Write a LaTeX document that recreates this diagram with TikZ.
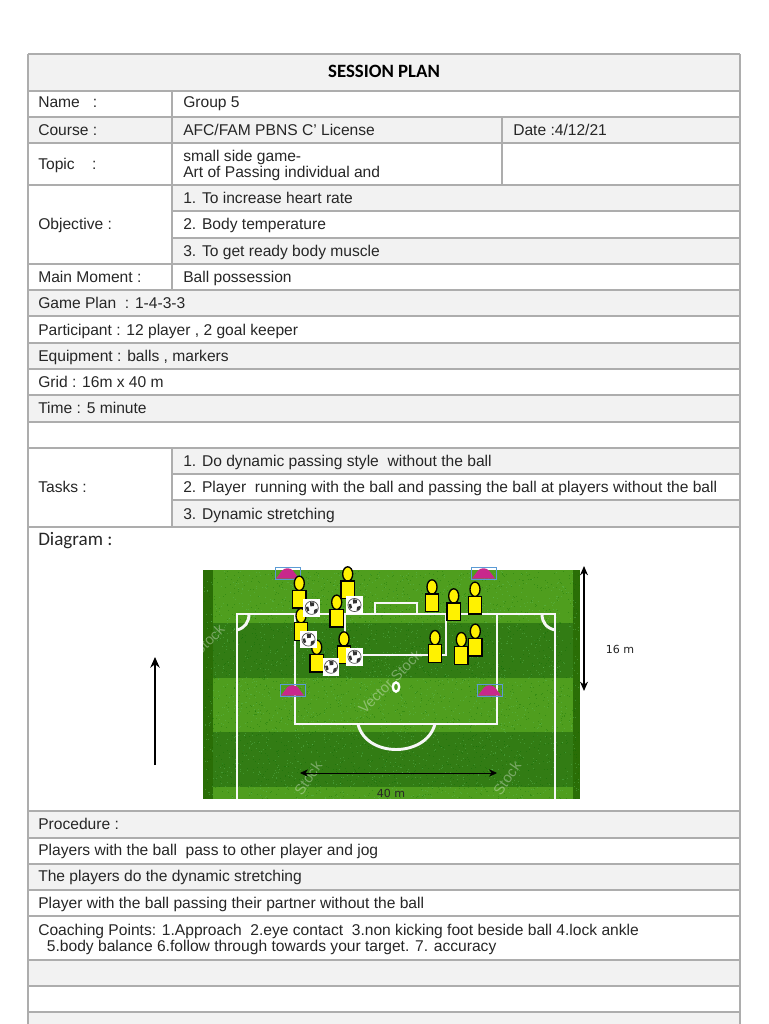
\documentclass[tikz,border=0pt]{standalone}
\usepackage{fontspec}
\setmainfont{Liberation Sans}
\newfontfamily\titlefont{Carlito}
\newfontfamily\dimfont{DejaVu Sans}
\usetikzlibrary{arrows.meta}
\definecolor{gridline}{HTML}{ADADAD}
\definecolor{rowshade}{HTML}{F2F2F2}
\definecolor{grasslight}{HTML}{4F9E1E}
\definecolor{grassdark}{HTML}{327C14}
\definecolor{grassedge}{HTML}{2A6E06}
\definecolor{conepink}{HTML}{C8288C}
\definecolor{coneblue}{HTML}{5B9BD5}
\begin{document}
\begin{tikzpicture}[
  x=0.75pt, y=-0.75pt,
  cell/.style={anchor=base west, inner sep=0pt, font=\fontsize{11.7pt}{12pt}\selectfont, text=black!85},
  pitchline/.style={draw=white!97!black, line width=2.2pt},
  marker/.style={draw=coneblue, line width=0.7pt},
  dimarrow/.style={{Stealth[length=7pt,width=6pt]}-{Stealth[length=7pt,width=6pt]}, line width=0.9pt},
  wmark/.style={text=white, opacity=0.35, font=\fontsize{11pt}{12pt}\selectfont, inner sep=0pt}
]
\useasboundingbox (0,0) rectangle (768,1024);

% Shaded rows
\foreach \ya/\yb in {54/91, 117/143, 290/316, 343/369, 395/422, 811/838, 864/890, 960/986, 1012/1024}
  \fill[rowshade] (28,\ya) rectangle (740,\yb);
\foreach \ya/\yb in {185/211, 238/264, 448/474, 500/527}
  \fill[rowshade] (172,\ya) rectangle (740,\yb);

% Rows and columns
\foreach \y in {54, 91, 117, 143, 264, 290, 316, 343, 369, 395, 422, 448, 527, 811, 838, 864, 890, 916, 960, 986, 1012}
  \draw[gridline, line width=0.8pt] (28,\y) -- (740,\y);
\foreach \y in {185, 211, 238, 474, 500}
  \draw[gridline, line width=0.8pt] (172,\y) -- (740,\y);
\draw[gridline, line width=0.8pt] (28,185) -- (172,185);
\draw[gridline, line width=0.8pt] (28,54) -- (28,1024);
\draw[gridline, line width=0.8pt] (740,54) -- (740,1024);
\draw[gridline, line width=0.8pt] (172,91) -- (172,290);
\draw[gridline, line width=0.8pt] (172,448) -- (172,527);
\draw[gridline, line width=0.8pt] (502,117) -- (502,185);

% Table text
\node[inner sep=0pt, font=\titlefont\bfseries\fontsize{14.1pt}{16pt}\selectfont] (title) at (384,71) {SESSION PLAN};
\node[cell] (name) at (38,108) {Name\ \ \ :};
\node[cell] (group) at (183,108) {Group 5};
\node[cell] (course) at (38,135) {Course :};
\node[cell] (license) at (183,135) {AFC/FAM PBNS C’ License};
\node[cell] (date) at (513,135) {Date :4/12/21};
\node[cell] (topic) at (38,169) {Topic\ \ \ \ :};
\node[cell] (game) at (183,161) {small side game-};
\node[cell] (art) at (183,177) {Art of Passing individual and};
\node[cell] (objective) at (38,229) {Objective :};
\node[cell] (heart) at (183,203) {1. To increase heart rate};
\node[cell] (temp) at (183,229) {2. Body temperature};
\node[cell] (muscle) at (183,256) {3. To get ready body muscle};
\node[cell] (moment) at (38,282) {Main Moment :};
\node[cell] (possession) at (183,282) {Ball possession};
\node[cell] (plan) at (38,308) {Game Plan\ \ : 1-4-3-3};
\node[cell] (participant) at (38,335) {Participant : 12 player , 2 goal keeper};
\node[cell] (equipment) at (38,361) {Equipment : balls , markers};
\node[cell] (gridsize) at (38,387) {Grid : 16m x 40 m};
\node[cell] (time) at (38,413) {Time : 5 minute};
\node[cell] (tasks) at (38,492) {Tasks :};
\node[cell] (task1) at (183,466) {1. Do dynamic passing style\ \ without the ball};
\node[cell] (task2) at (183,492) {2. Player\ \ running with the ball and passing the ball at players without the ball};
\node[cell] (task3) at (183,519) {3. Dynamic stretching};
\node[anchor=base west, inner sep=0pt, font=\titlefont\fontsize{14.3pt}{16pt}\selectfont, text=black!85] (diagram) at (38,545) {Diagram :};
\node[cell] (procedure) at (38,829) {Procedure :};
\node[cell] (proc1) at (38,855) {Players with the ball\ \ pass to other player and jog};
\node[cell] (proc2) at (38,881) {The players do the dynamic stretching};
\node[cell] (proc3) at (38,908) {Player with the ball passing their partner without the ball};
\node[cell] (coach1) at (38,935) {Coaching Points: 1.Approach\ \ 2.eye contact\ \ 3.non kicking foot beside ball 4.lock ankle};
\node[cell] (coach2) at (38,951) {\ \ 5.body balance 6.follow through towards your target. 7. accuracy};

% Pitch
\fill[grasslight] (203,570) rectangle (580,799);
\fill[grassdark] (213,623) rectangle (573,678);
\fill[grassdark] (213,732) rectangle (573,787);
\fill[grassedge] (203,570) rectangle (213,799);
\fill[grassedge] (573,570) rectangle (580,799);
\pgfmathsetseed{7}
\foreach \i in {1,...,2200}{
  \pgfmathsetmacro{\gx}{204+375*rnd}
  \pgfmathsetmacro{\gy}{571+227*rnd}
  \fill[white!50!green!75!black, opacity=0.4] (\gx,\gy) rectangle ++(1,1);
  \pgfmathsetmacro{\gx}{204+375*rnd}
  \pgfmathsetmacro{\gy}{571+227*rnd}
  \fill[black!60!green, opacity=0.3] (\gx,\gy) rectangle ++(1,1);
}

% Pitch lines
\draw[pitchline] (237,799) -- (237,614) -- (555,614) -- (555,799);
\draw[pitchline] (295,614) -- (295,724) -- (497,724) -- (497,614);
\draw[pitchline] (345,614) -- (345,655) -- (446,655) -- (446,614);
\draw[pitchline] (375,614) -- (375,603) -- (417,603) -- (417,614);
\draw[pitchline] (249,614) .. controls (249,622) and (245,628) .. (237,630);
\draw[pitchline] (542,614) .. controls (542,622) and (546,628) .. (555,630);
\draw[pitchline] (358,724) .. controls (366,758) and (426,758) .. (435,724);
\draw[white, line width=1.8pt] (396,687) ellipse [x radius=3.2, y radius=4.6];

% Watermarks
\node[wmark, rotate=45] (wm1) at (209,640) {Stock};
\node[wmark, rotate=45] (wm2) at (390,682) {Vector Stock};
\node[wmark, rotate=55] (wm3) at (308,778) {Stock};
\node[wmark, rotate=55] (wm4) at (507,778) {Stock};

% Markers
\foreach \mx/\my in {275/567, 471/567, 280/684, 477/684}{
  \fill[conepink] (\mx+1,\my+11.5) -- (\mx+7,\my+3.5) .. controls (\mx+10,\my+0.5) and (\mx+15,\my+0.5) .. (\mx+18,\my+3.5) -- (\mx+24,\my+11.5) -- cycle;
  \draw[marker] (\mx,\my) rectangle (\mx+25,\my+12);
}

% Players
\foreach \hx/\hy in {299.3/583.3, 347.7/574, 336.7/602.3, 301/615.7, 316.7/647.3, 344/639, 432/587, 453.7/596, 475/589.3, 435/637.7, 461.3/639.7, 475.3/631.3}{
  \filldraw[fill=yellow, draw=black, line width=1pt] (\hx,\hy) ellipse [x radius=5, y radius=7.2];
  \filldraw[fill=yellow, draw=black, line width=1pt] (\hx-6.7,\hy+7) rectangle (\hx+6.7,\hy+24.7);
}

% Balls
\foreach \bx/\by in {311.7/607.8, 354.5/605, 308.5/639.5, 331/666.7, 354.5/656.8}{
  \fill[white] (\bx-8.3,\by-8.8) rectangle (\bx+8.3,\by+8.8);
  \filldraw[fill=white, draw=black!70, line width=0.5pt] (\bx,\by) circle [radius=6.6];
  \fill[black!80] (\bx-1.6,\by-5.6) -- (\bx+2.6,\by-5.4) -- (\bx+2.2,\by-1.8) -- (\bx-1.4,\by-1.4) -- cycle;
  \fill[black!80] (\bx-6,\by-0.8) -- (\bx-3.4,\by-1.2) -- (\bx-2.4,\by+2.6) -- (\bx-4.6,\by+4) -- cycle;
  \fill[black!80] (\bx+2.6,\by+2) -- (\bx+6,\by+0.6) -- (\bx+5,\by+4.4) -- (\bx+2,\by+5.8) -- cycle;
}

% Dimensions
\coordinate (depthtop) at (584,566);
\coordinate (depthbot) at (584,691);
\draw[dimarrow] (depthtop) -- (depthbot);
\node[inner sep=0pt, font=\dimfont\fontsize{8.3pt}{10pt}\selectfont, text=black!85] (depth) at (620,649) {16 m};
\coordinate (widthl) at (300,773);
\coordinate (widthr) at (497,773);
\draw[{Stealth[length=6pt,width=5.5pt]}-{Stealth[length=6pt,width=5.5pt]}, line width=0.5pt] (widthl) -- (widthr);
\node[inner sep=0pt, font=\dimfont\fontsize{8.3pt}{10pt}\selectfont, text=black!85] (width) at (391,793) {40 m};

% Direction of play
\coordinate (playfrom) at (155,765);
\coordinate (playto) at (155,657);
\draw[-{Stealth[length=8pt,width=7pt]}, line width=1.6pt] (playfrom) -- (playto);
\end{tikzpicture}
\end{document}
